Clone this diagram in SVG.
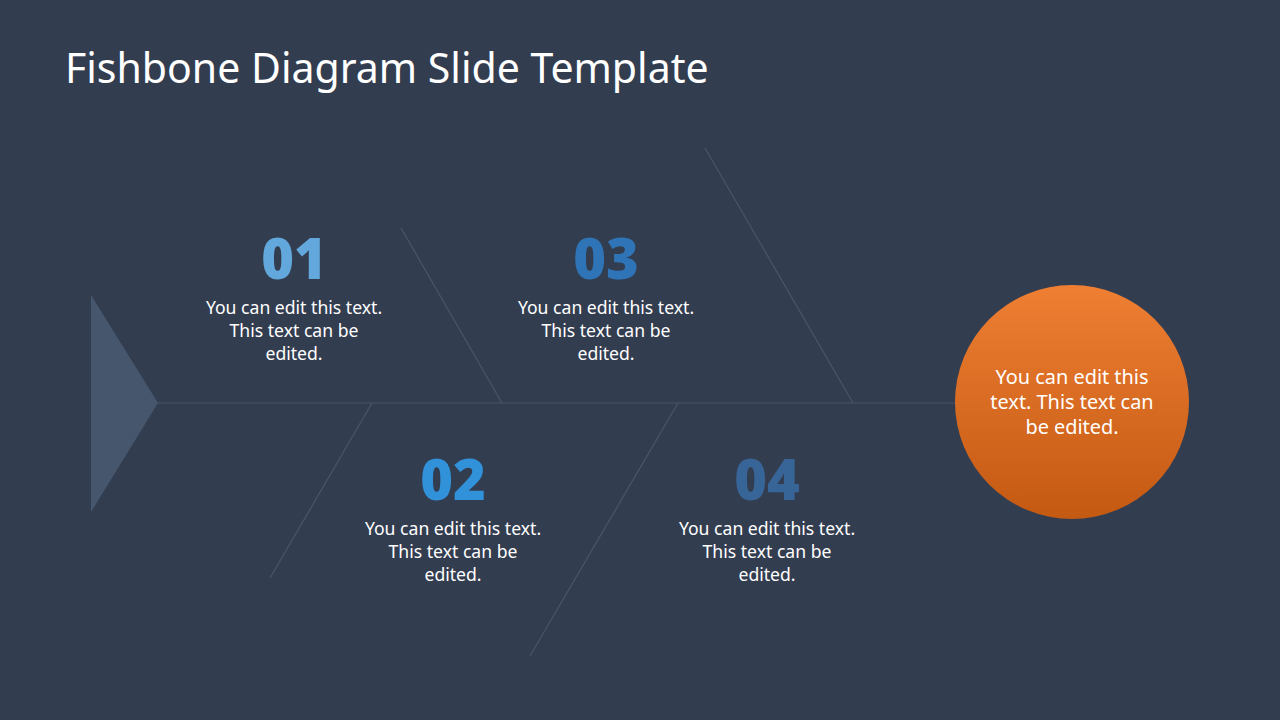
<svg xmlns="http://www.w3.org/2000/svg" width="1280" height="720" viewBox="0 0 1280 720">
<defs>
<linearGradient id="og" x1="0" y1="0" x2="0" y2="1">
<stop offset="0" stop-color="#ee7f33"/>
<stop offset="1" stop-color="#c45912"/>
</linearGradient>
<style>
.bone{stroke:#4a5569;stroke-width:1.2;fill:none}
.num{font-family:"Open Sans","Noto Sans",sans-serif;font-weight:800;font-size:56px;text-anchor:middle}
.body{font-family:"Noto Sans","Open Sans",sans-serif;font-size:17.6px;fill:#ffffff;text-anchor:middle}
.head{font-family:"Noto Sans","Open Sans",sans-serif;font-size:19.9px;fill:#ffffff;text-anchor:middle}
</style>
</defs>
<rect width="1280" height="720" fill="#333d50"/>
<text x="65" y="83" font-family="Noto Sans, Open Sans, sans-serif" font-size="41" fill="#ffffff">Fishbone Diagram Slide Template</text>
<g id="connectors">
<line class="bone" x1="158" y1="403" x2="956" y2="403"/>
<line class="bone" x1="401" y1="228" x2="502" y2="403"/>
<line class="bone" x1="705" y1="148" x2="853" y2="403"/>
<line class="bone" x1="372" y1="403" x2="270" y2="578"/>
<line class="bone" x1="678" y1="403" x2="530" y2="656"/>
</g>
<g id="tail">
<polygon points="91,295 158,403 91,512" fill="#46566d"/>
</g>
<g id="node01">
<text class="num" x="294" y="279" fill="#62a8dc">01</text>
<text class="body" x="294" y="314">You can edit this text.</text>
<text class="body" x="294" y="337">This text can be</text>
<text class="body" x="294" y="360">edited.</text>
</g>
<g id="node03">
<text class="num" x="606" y="279" fill="#2e74b7">03</text>
<text class="body" x="606" y="314">You can edit this text.</text>
<text class="body" x="606" y="337">This text can be</text>
<text class="body" x="606" y="360">edited.</text>
</g>
<g id="node02">
<text class="num" x="453" y="500" fill="#3191d9">02</text>
<text class="body" x="453" y="535">You can edit this text.</text>
<text class="body" x="453" y="558">This text can be</text>
<text class="body" x="453" y="581">edited.</text>
</g>
<g id="node04">
<text class="num" x="767" y="500" fill="#386597">04</text>
<text class="body" x="767" y="535">You can edit this text.</text>
<text class="body" x="767" y="558">This text can be</text>
<text class="body" x="767" y="581">edited.</text>
</g>
<g id="head">
<circle cx="1072" cy="402" r="117" fill="url(#og)"/>
<text class="head" x="1072" y="384">You can edit this</text>
<text class="head" x="1072" y="409">text. This text can</text>
<text class="head" x="1072" y="434">be edited.</text>
</g>
</svg>
